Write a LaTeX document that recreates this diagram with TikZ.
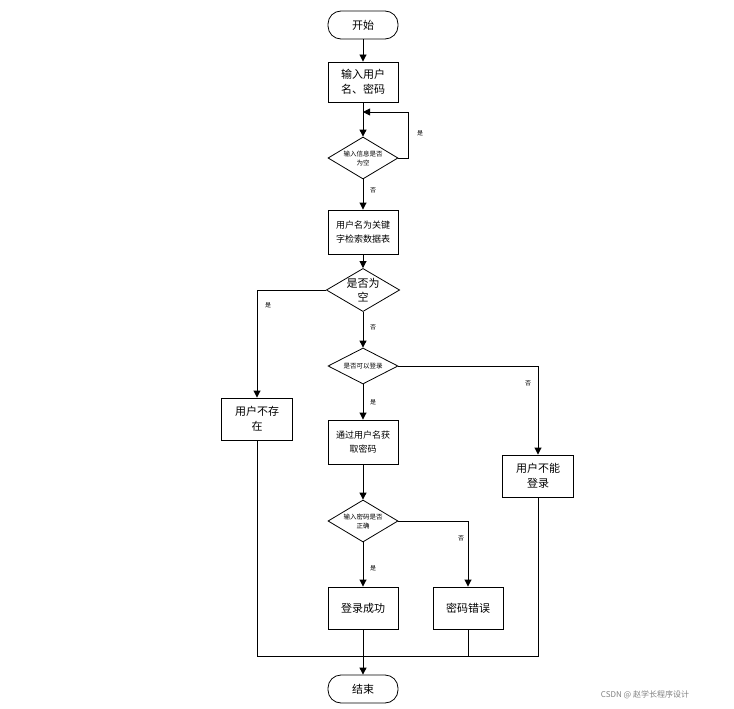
\documentclass[tikz,border=0pt]{standalone}
\usepackage{fontspec}
\setmainfont{Noto Sans CJK SC}
\usetikzlibrary{shapes.geometric,arrows.meta}
\begin{document}
\begin{tikzpicture}[x=1pt,y=-1pt,
  box/.style={draw,line width=0.9pt,minimum width=70pt,inner sep=1pt,align=center,font=\fontsize{11}{15}\selectfont},
  term/.style={draw,line width=0.8pt,rounded corners=13pt,minimum width=70pt,minimum height=28pt,font=\fontsize{11}{13}\selectfont},
  dia/.style={draw,line width=0.8pt,diamond,aspect=1.7,minimum width=70pt,minimum height=42pt,inner sep=0pt,align=center,font=\fontsize{6.5}{9}\selectfont},
  lab/.style={font=\fontsize{6}{7}\selectfont},
  ar/.style={line width=0.9pt,-{Triangle[length=7pt,width=7pt]}},
  ln/.style={line width=0.8pt}]
\useasboundingbox (0,0) rectangle (734,709);
\node[term] (s) at (363,25) {开始};
\node[box,minimum height=40pt] (b1) at (363,82) {输入用户\\名、密码};
\node[dia] (d1) at (363,158) {输入信息是否\\为空};
\node[box,minimum height=44pt,font=\fontsize{9}{14}\selectfont] (b2) at (363,232) {用户名为关键\\字检索数据表};
\node[dia,minimum height=40pt,font=\fontsize{11}{14}\selectfont] (d2) at (363,290) {是否为\\空};
\node[dia,minimum height=36pt] (d3) at (363,366) {是否可以登录};
\node[box,minimum width=71pt,minimum height=42pt] (b3) at (257,419) {用户不存\\在};
\node[box,minimum width=71pt,minimum height=42pt] (b4) at (538,476) {用户不能\\登录};
\node[box,minimum height=44pt,font=\fontsize{9}{14}\selectfont] (b5) at (363,442) {通过用户名获\\取密码};
\node[dia] (d4) at (363,521) {输入密码是否\\正确};
\node[box,minimum height=42pt] (b6) at (363,608) {登录成功};
\node[box,minimum height=42pt] (b7) at (468,608) {密码错误};
\node[term] (e) at (363,689) {结束};
\coordinate (j) at (363,656);
\coordinate (l) at (363,112);
\draw[ar] (s) -- (b1);
\draw[ar] (b1) -- (d1);
\draw[ar] (d1.east) -- (408,158) -- (408,112) -- (l);
\draw[ar] (d1) -- (b2);
\draw[ar] (b2) -- (d2);
\draw[ar] (d2.west) -| (b3.north);
\draw[ar] (d2) -- (d3);
\draw[ar] (d3.east) -| (b4.north);
\draw[ar] (d3) -- (b5);
\draw[ar] (b5) -- (d4);
\draw[ar] (d4.east) -| (b7.north);
\draw[ar] (d4) -- (b6);
\draw[ln] (b3.south) |- (538,656) -- (b4.south);
\draw[ln] (b7.south) -- (468,656);
\draw[ar] (b6.south) -- (e.north);
\node[lab] at (420,133) {是};
\node[lab] at (373,190) {否};
\node[lab] at (268,305) {是};
\node[lab] at (373,327) {否};
\node[lab] at (528,383) {否};
\node[lab] at (373,402) {是};
\node[lab] at (461,538) {否};
\node[lab] at (373,568) {是};
\node[font=\fontsize{8}{9}\selectfont,text=gray] (w) at (645,695) {CSDN @ 赵学长程序设计};
\end{tikzpicture}
\end{document}
